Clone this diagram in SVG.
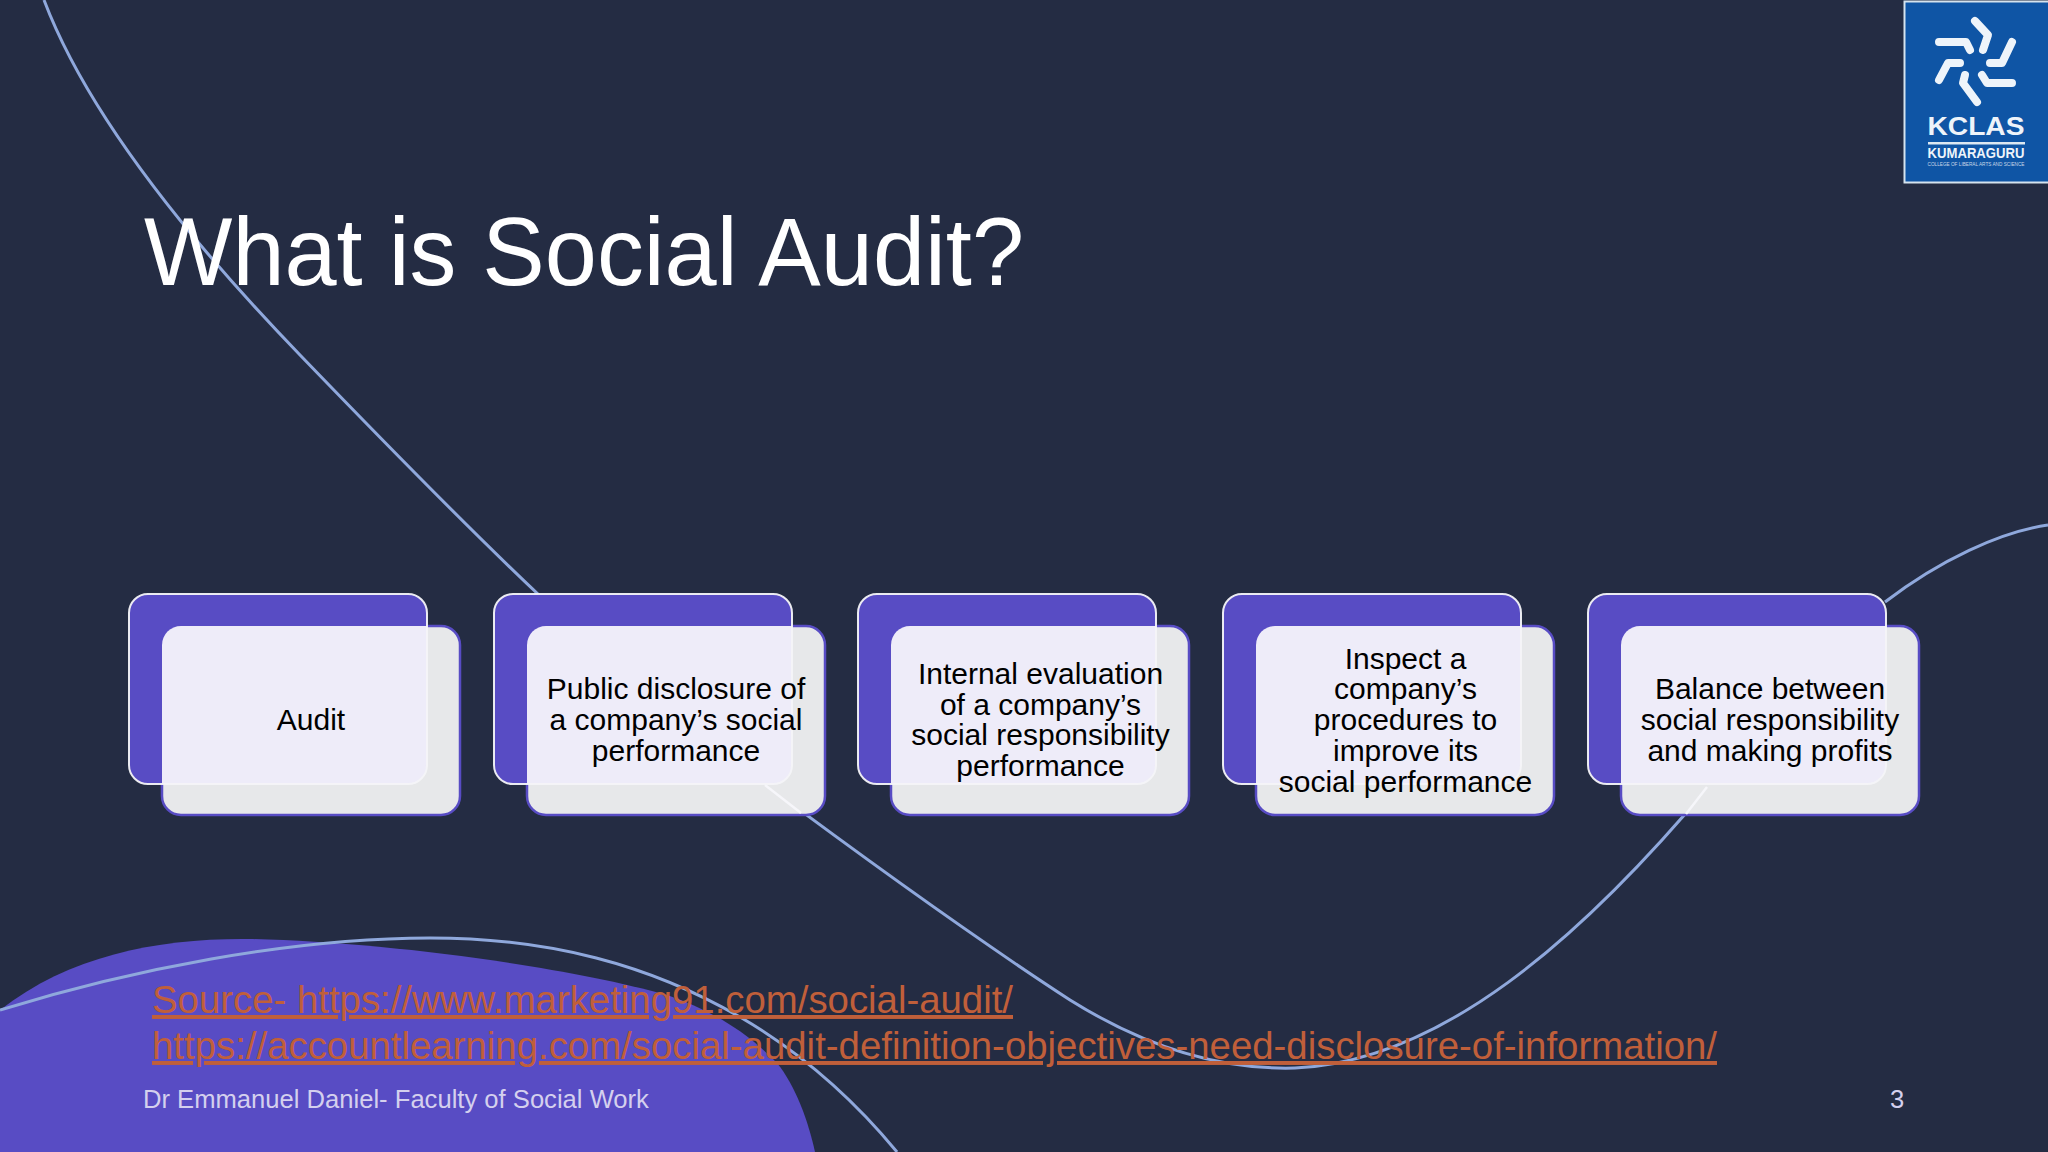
<svg xmlns="http://www.w3.org/2000/svg" width="2048" height="1152" viewBox="0 0 2048 1152">
<defs><path id="ov" d="M181 626H427V765a19 19 0 0 1-19 19H162V645a19 19 0 0 1 19-19Z"/></defs>
<style>
text{font-family:"Liberation Sans",Arial,sans-serif}
.curve{fill:none;stroke:#8fa8dc;stroke-width:3}
.faint{fill:none;stroke:#f6f6fa;stroke-width:2.500}
.back{fill:#584cc4;stroke:none}
.edge{fill:none;stroke:#f4f4f8;stroke-opacity:.95;stroke-width:2}
.front{fill:#e7e8ea;stroke:#584cc4;stroke-width:2.500}
.over{fill:#eeecf9}
.lbl{font-size:30px;fill:#000;text-anchor:middle}
.link{font-size:39.5px;fill:#c05f3a;text-decoration:underline}
.star{fill:none;stroke:#eef4fa;stroke-width:8;stroke-linecap:round;stroke-linejoin:round}
</style>
<rect width="2048" height="1152" fill="#242c43"/>
<path id="blob" d="M0 1010C70 955 160 938 250 939C380 942 560 965 667 995C710 1010 745 1030 777 1063C795 1085 808 1120 815 1152L0 1152Z" fill="#584cc4"/>
<g id="connectors">
<path class="curve" d="M44 0C80 95 160 210 300 355C380 438 470 530 540 596"/>
<path class="curve" d="M762 782C860 855 970 935 1070 1000C1150 1050 1225 1070 1295 1068C1440 1062 1580 940 1710 785"/>
<path class="curve" d="M1885 602C1940 560 2000 532 2048 525"/>
<path class="curve" d="M0 1010C130 970 290 938 430 938C550 938 650 965 740 1017C800 1052 850 1095 897 1152"/>
</g>
<text id="title" x="144" y="285" font-size="96" fill="#fff" textLength="880" lengthAdjust="spacingAndGlyphs">What is Social Audit?</text>
<g id="node1"><rect class="back" x="129" y="594" width="298" height="190" rx="19"/><rect class="front" x="162" y="626" width="298" height="189" rx="19"/><use href="#ov" class="over"/><rect class="edge" x="129" y="594" width="298" height="190" rx="19"/><text class="lbl" x="311" y="730">Audit</text></g>
<g id="node2"><rect class="back" x="494" y="594" width="298" height="190" rx="19"/><rect class="front" x="527" y="626" width="298" height="189" rx="19"/><use href="#ov" class="over" x="365"/><rect class="edge" x="494" y="594" width="298" height="190" rx="19"/><text class="lbl" x="676" y="699">Public disclosure of</text><text class="lbl" x="676" y="730">a company’s social</text><text class="lbl" x="676" y="761">performance</text></g>
<g id="node3"><rect class="back" x="858" y="594" width="298" height="190" rx="19"/><rect class="front" x="891" y="626" width="298" height="189" rx="19"/><use href="#ov" class="over" x="729"/><rect class="edge" x="858" y="594" width="298" height="190" rx="19"/><text class="lbl" x="1040.500" y="684">Internal evaluation</text><text class="lbl" x="1040.500" y="715">of a company’s</text><text class="lbl" x="1040.500" y="745">social responsibility</text><text class="lbl" x="1040.500" y="776">performance</text></g>
<g id="node4"><rect class="back" x="1223" y="594" width="298" height="190" rx="19"/><rect class="front" x="1256" y="626" width="298" height="189" rx="19"/><use href="#ov" class="over" x="1094"/><rect class="edge" x="1223" y="594" width="298" height="190" rx="19"/><text class="lbl" x="1405.500" y="669">Inspect a</text><text class="lbl" x="1405.500" y="699">company’s</text><text class="lbl" x="1405.500" y="730">procedures to</text><text class="lbl" x="1405.500" y="761">improve its</text><text class="lbl" x="1405.500" y="792">social performance</text></g>
<g id="node5"><rect class="back" x="1588" y="594" width="298" height="190" rx="19"/><rect class="front" x="1621" y="626" width="298" height="189" rx="19"/><use href="#ov" class="over" x="1459"/><rect class="edge" x="1588" y="594" width="298" height="190" rx="19"/><text class="lbl" x="1770" y="699">Balance between</text><text class="lbl" x="1770" y="730">social responsibility</text><text class="lbl" x="1770" y="761">and making profits</text></g>
<g id="connector-show-through">
<path class="faint" d="M765 785L801 813"/>
<path class="faint" d="M1707 787L1686 814"/>
</g>
<text class="link" x="152" y="1013" textLength="861" lengthAdjust="spacingAndGlyphs">Source- https://www.marketing91.com/social-audit/</text>
<text class="link" x="152" y="1059" textLength="1565" lengthAdjust="spacingAndGlyphs">https://accountlearning.com/social-audit-definition-objectives-need-disclosure-of-information/</text>
<text x="143" y="1108" font-size="25.6" fill="#d4d0ee">Dr Emmanuel Daniel- Faculty of Social Work</text>
<text x="1890" y="1108" font-size="25.6" fill="#d4d0ee">3</text>
<g id="logo">
<rect x="1904.500" y="1.500" width="150" height="181" fill="#0f55a5" stroke="#d5e3ee" stroke-width="2"/>
<path class="star" d="M1975 21L1988 35L1983 50M1939 42L1966 42L1970 50M2012 42L2002 63L1990 63M1960 63L1948 63L1939 80M2012 83L1987 83L1982 75M1965 75L1963 83L1977 102"/>
<text x="1976" y="135" font-size="26" font-weight="bold" fill="#eef4fa" text-anchor="middle" textLength="97" lengthAdjust="spacingAndGlyphs">KCLAS</text>
<rect x="1928" y="142" width="97" height="2.500" fill="#dce8f2"/>
<text x="1976" y="158" font-size="14" font-weight="bold" fill="#eef4fa" text-anchor="middle" textLength="97" lengthAdjust="spacingAndGlyphs">KUMARAGURU</text>
<text x="1976" y="166" font-size="5" fill="#c8d8e8" text-anchor="middle" textLength="97" lengthAdjust="spacingAndGlyphs">COLLEGE OF LIBERAL ARTS AND SCIENCE</text>
</g>
</svg>
